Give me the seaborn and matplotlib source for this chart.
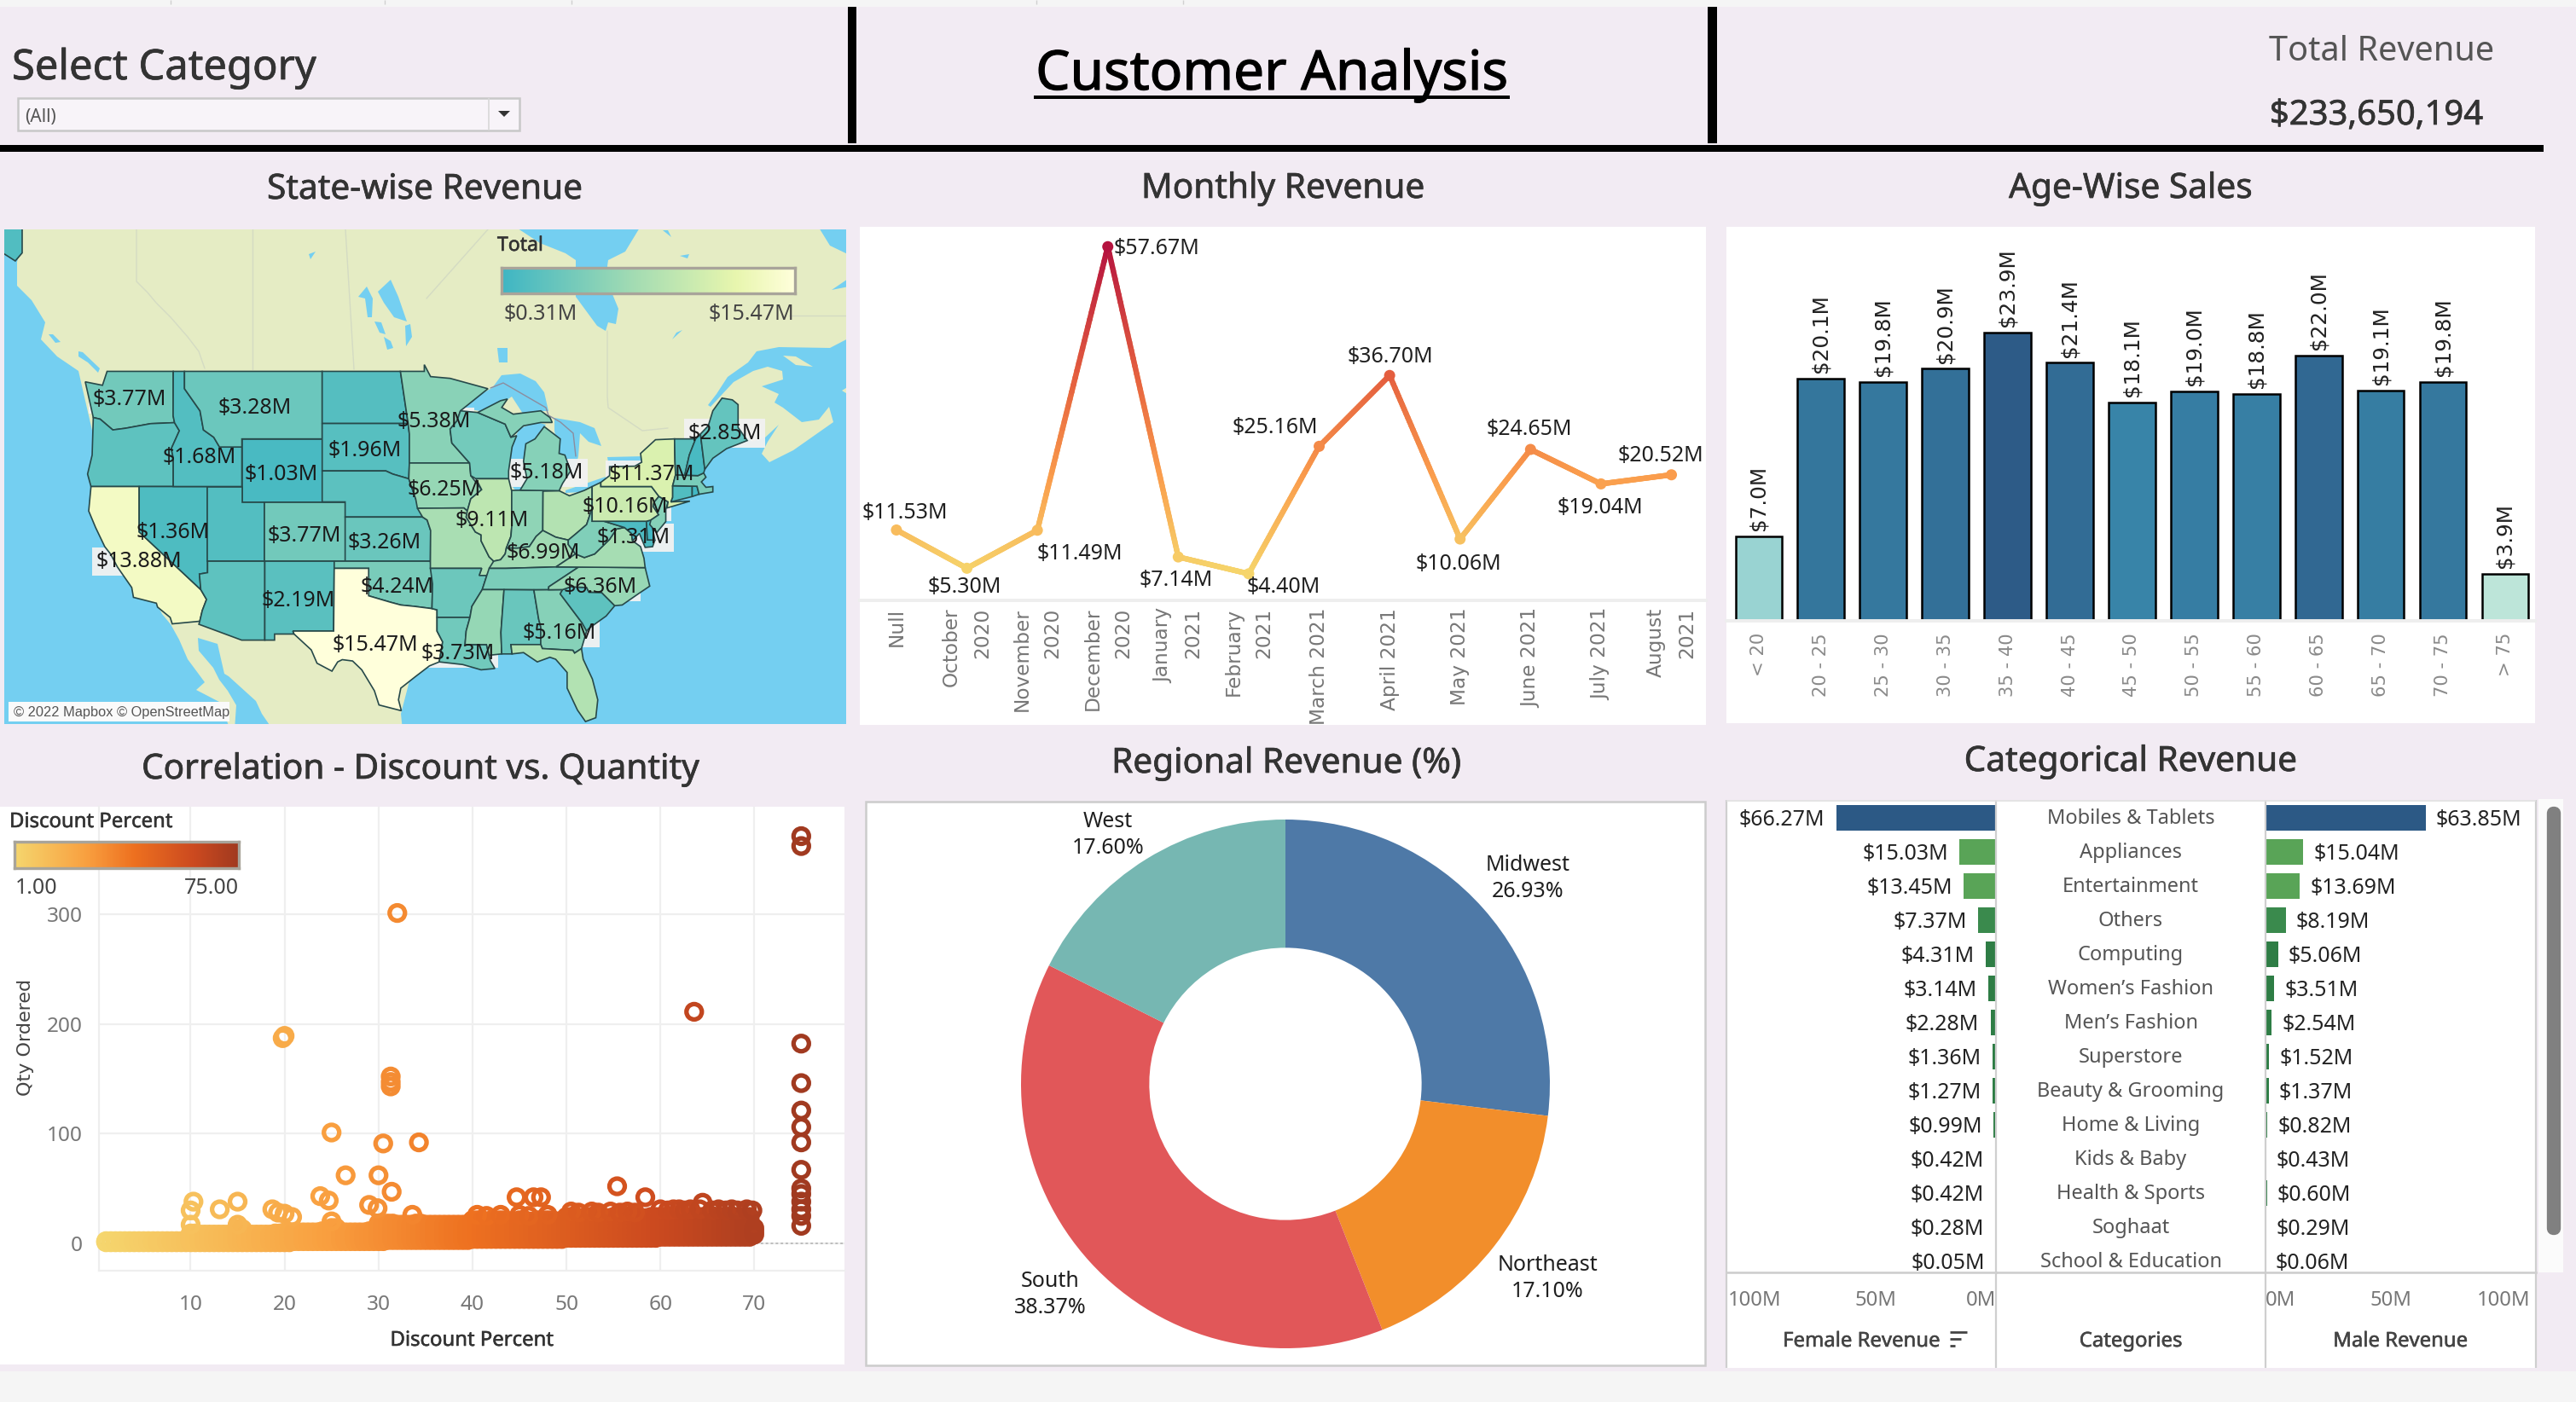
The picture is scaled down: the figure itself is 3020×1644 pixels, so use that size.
import numpy as np
import pandas as pd
import matplotlib
matplotlib.use("Agg")
import matplotlib.pyplot as plt
import matplotlib.patheffects as pe
import seaborn as sns
from matplotlib.collections import LineCollection
from matplotlib.colors import LinearSegmentedColormap, Normalize
from matplotlib.patches import Rectangle, Polygon, FancyBboxPatch
from matplotlib.lines import Line2D
from matplotlib.transforms import Affine2D

# ---------------- data ----------------
state_revenue = {
    "WA": 3.77, "MT": 3.28, "ID": 1.68, "WY": 1.03, "ND": 1.80, "SD": 1.96, "NE": 2.30, "MN": 5.38,
    "OR": 2.50, "CA": 13.88, "NV": 1.36, "UT": 1.70, "AZ": 2.40, "NM": 2.19, "CO": 3.77, "KS": 3.26,
    "OK": 4.24, "TX": 15.47, "MO": 7.60, "IA": 6.25, "AR": 3.40, "LA": 3.73, "MS": 6.20, "AL": 3.20,
    "GA": 5.16, "FL": 8.30, "SC": 2.40, "NC": 6.36, "TN": 4.40, "KY": 6.99, "VA": 7.40, "WV": 4.80,
    "OH": 8.40, "IN": 5.80, "IL": 9.11, "WI": 3.90, "MI": 5.18, "PA": 10.16, "NY": 11.37, "ME": 2.85,
    "VT": 2.30, "NH": 1.00, "MA": 4.30, "CT": 1.60, "RI": 0.50, "NJ": 5.20, "DE": 0.60, "MD": 1.31,
    "AK": 1.60,
}
map_labelled = ["WA", "MT", "ID", "WY", "SD", "MN", "IA", "MI", "NY", "ME", "PA", "MD", "NV", "CO", "KS", "CA",
                "NM", "OK", "TX", "LA", "GA", "NC", "KY", "IL"]

months = ["Null", "October\n2020", "November\n2020", "December\n2020", "January\n2021", "February\n2021",
          "March 2021", "April 2021", "May 2021", "June 2021", "July 2021", "August\n2021"]
month_revenue = [11.53, 5.30, 11.49, 57.67, 7.14, 4.40, 25.16, 36.70, 10.06, 24.65, 19.04, 20.52]

age_groups = ["< 20", "20 - 25", "25 - 30", "30 - 35", "35 - 40", "40 - 45", "45 - 50", "50 - 55", "55 - 60",
              "60 - 65", "65 - 70", "70 - 75", "> 75"]
age_revenue = [7.0, 20.1, 19.8, 20.9, 23.9, 21.4, 18.1, 19.0, 18.8, 22.0, 19.1, 19.8, 3.9]

regions = ["Midwest", "Northeast", "South", "West"]
region_share = [26.93, 17.10, 38.37, 17.60]
region_colors = ["#4E79A7", "#F28E2B", "#E15759", "#76B7B2"]

categories = ["Mobiles & Tablets", "Appliances", "Entertainment", "Others", "Computing", "Women's Fashion",
              "Men's Fashion", "Superstore", "Beauty & Grooming", "Home & Living", "Kids & Baby",
              "Health & Sports", "Soghaat", "School & Education"]
female_revenue = [66.27, 15.03, 13.45, 7.37, 4.31, 3.14, 2.28, 1.36, 1.27, 0.99, 0.42, 0.42, 0.28, 0.05]
male_revenue = [63.85, 15.04, 13.69, 8.19, 5.06, 3.51, 2.54, 1.52, 1.37, 0.82, 0.43, 0.60, 0.29, 0.06]

# dense lower band of the scatter: per whole discount, lowest and highest quantity
band_discount = [1, 2, 3, 4, 5, 6, 7, 8, 9, 10, 11, 12, 13, 14, 15, 16, 17, 18, 19, 20, 21, 22, 23, 24, 25, 26, 27,
                 28, 29, 30, 31, 32, 33, 34, 35, 36, 37, 38, 39, 40, 41, 42, 43, 44, 45, 46, 47, 48, 49, 50, 51,
                 52, 53, 54, 55, 56, 57, 58, 59, 60, 61, 62, 63, 64, 65, 66, 67, 68, 69, 70]
band_low = [1, 1, 1, 1, 1, 1, 1, 1, 1, 1, 1, 1, 1, 1, 1, 1, 1, 1, 1, 1, 2, 2, 2, 2, 2, 2, 2, 2, 2, 2, 3, 3, 3, 3, 3,
            3, 3, 3, 3, 4, 4, 4, 4, 4, 4, 4, 4, 4, 4, 5, 5, 5, 5, 5, 5, 5, 5, 5, 5, 6, 6, 6, 6, 6, 6, 6, 6, 6, 6, 8]
band_high = [2, 2, 2, 2, 2, 2, 2, 2, 2, 9, 8, 8, 8, 8, 13, 8, 8, 8, 9, 10, 10, 10, 10, 11, 14, 10, 10, 10, 11, 18,
             18, 17, 17, 18, 17, 17, 17, 17, 17, 21, 20, 21, 21, 20, 21, 20, 21, 21, 20, 24, 23, 24, 24, 23, 24,
             24, 24, 23, 24, 24, 24, 25, 24, 24, 25, 24, 24, 24, 24, 14]
outlier_discount = [75, 75, 32, 63.6, 20, 19.8, 75, 75, 75, 75, 75, 75, 75, 75, 75, 75, 75, 75, 31.3, 31.3, 31.3, 25,
                    30.5, 34.3, 26.5, 30, 31.4, 23.8, 24.7, 29, 29.9, 10.3, 10, 13.1, 15, 18.7, 19.3, 20, 20.8,
                    25, 10, 15, 33.6, 44.7, 46.5, 47.3, 55.4, 58.4, 64.5,
                    40.5, 41.5, 43, 45, 46, 48, 50.5, 51.3, 52.7, 53.4, 54.7, 55.7, 56.5, 57.3, 60, 60.8, 61.4,
                    62, 62.6, 63.2, 64.2, 65.5, 66.2, 67, 67.6, 68.2, 69.2, 69.8]
outlier_qty = [371, 362, 301, 211, 189, 187, 182, 146, 121, 106, 92, 67, 50, 45, 38, 31, 25, 16, 152, 147, 143, 101,
               91, 92, 62, 62, 47, 43, 39, 35, 32, 38, 30, 31, 38, 31, 28, 27, 24,
               20, 17, 17, 26, 42, 42, 42, 52, 42, 37,
               26, 25, 26, 26, 25, 26, 29, 28, 29, 28, 29, 28, 29, 28, 31, 30, 31,
               31, 30, 31, 31, 30, 31, 30, 31, 30, 31, 30]

# state outlines in longitude / latitude (map geometry)
STATE_OUTLINES = {
    "AK": [[(-131.9, 56.6), (-130.2, 56.6), (-130.2, 55.3), (-130.8, 54.9), (-131.9, 55.3)]],
    "WA": [[(-124.7, 48.4), (-123.2, 48.2), (-122.8, 49), (-117.03, 49), (-117.04, 46.4), (-116.92, 45.99), (-119, 45.93),
            (-121.2, 45.65), (-122.3, 45.55), (-123.4, 46.2), (-124, 46.3)]],
    "OR": [[(-124, 46.3), (-123.4, 46.2), (-122.3, 45.55), (-121.2, 45.65), (-119, 45.93), (-116.92, 45.99), (-116.5, 45.5),
            (-117.2, 44.4), (-117.03, 43.8), (-117.03, 42), (-124.2, 42), (-124.5, 42.8), (-124.1, 44)]],
    "CA": [[(-124.2, 42), (-120, 42), (-120, 39), (-114.63, 35), (-114.13, 34.3), (-114.5, 33.5), (-114.72, 32.72),
            (-117.12, 32.53), (-117.3, 33), (-118.4, 33.75), (-118.5, 34.03), (-120.5, 34.45), (-120.65, 35.15),
            (-121.9, 36.6), (-122.5, 37.5), (-123, 38), (-123.8, 39.3), (-124.4, 40.4)]],
    "NV": [[(-120, 42), (-114.04, 42), (-114.04, 36.2), (-114.75, 36.1), (-114.63, 35), (-120, 39)]],
    "ID": [[(-117.03, 49), (-116.05, 49), (-116.05, 48), (-114.7, 46.7), (-114.4, 45.55), (-113.5, 45.1), (-113, 44.5),
            (-111.05, 44.5), (-111.05, 42), (-117.03, 42), (-117.03, 43.8), (-117.2, 44.4), (-116.5, 45.5), (-116.92, 45.99),
            (-117.04, 46.4)]],
    "MT": [[(-116.05, 49), (-104.05, 49), (-104.05, 45), (-111.05, 45), (-111.05, 44.5), (-113, 44.5), (-113.5, 45.1),
            (-114.4, 45.55), (-114.7, 46.7), (-116.05, 48)]],
    "WY": [[(-111.05, 45), (-104.05, 45), (-104.05, 41), (-111.05, 41)]],
    "UT": [[(-114.04, 42), (-111.05, 42), (-111.05, 41), (-109.05, 41), (-109.05, 37), (-114.04, 37)]],
    "AZ": [[(-114.04, 37), (-109.05, 37), (-109.05, 31.33), (-111.07, 31.33), (-114.8, 32.5), (-114.72, 32.72), (-114.5, 33.5),
            (-114.13, 34.3), (-114.63, 35), (-114.75, 36.1), (-114.04, 36.2)]],
    "CO": [[(-109.05, 41), (-102.05, 41), (-102.05, 37), (-109.05, 37)]],
    "NM": [[(-109.05, 37), (-103, 37), (-103.05, 32), (-106.6, 32), (-106.5, 31.78), (-108.2, 31.78), (-108.2, 31.33),
            (-109.05, 31.33)]],
    "ND": [[(-104.05, 49), (-97.23, 49), (-96.56, 45.94), (-104.05, 45.94)]],
    "SD": [[(-104.05, 45.94), (-96.56, 45.94), (-96.45, 45.3), (-96.45, 43.5), (-96.5, 42.5), (-97.9, 42.8), (-98.5, 43),
            (-104.05, 43)]],
    "NE": [[(-104.05, 43), (-98.5, 43), (-97.9, 42.8), (-96.5, 42.5), (-95.9, 41.2), (-95.3, 40), (-102.05, 40), (-102.05, 41),
            (-104.05, 41)]],
    "KS": [[(-102.05, 40), (-95.3, 40), (-94.9, 39.8), (-94.6, 39.1), (-94.62, 37), (-102.05, 37)]],
    "OK": [[(-103, 37), (-94.62, 37), (-94.43, 35.4), (-94.48, 33.64), (-96, 33.8), (-97.2, 33.9), (-98.1, 34.1), (-100, 34.56),
            (-100, 36.5), (-103, 36.5)]],
    "TX": [[(-103, 36.5), (-100, 36.5), (-100, 34.56), (-98.1, 34.1), (-97.2, 33.9), (-96, 33.8), (-94.48, 33.64), (-94.04, 33.55),
            (-94.04, 32), (-93.55, 31.2), (-93.85, 29.7), (-94.7, 29.4), (-95.9, 28.6), (-97.2, 27.7), (-97.4, 26.8), (-97.15, 25.95),
            (-99.1, 26.4), (-99.5, 27.5), (-100.6, 29.1), (-101.4, 29.77), (-102.3, 29.87), (-102.7, 29.7), (-103.2, 29),
            (-104.5, 29.6), (-105, 30.6), (-106.5, 31.78), (-106.6, 32), (-103.05, 32)]],
    "MN": [[(-97.23, 49), (-95.15, 49), (-95.15, 49.38), (-94.6, 48.7), (-92.9, 48.6), (-89.6, 48), (-92, 46.7), (-92.3, 46.1),
            (-92.9, 45.6), (-92.75, 44.75), (-91.2, 43.5), (-96.45, 43.5), (-96.45, 45.3), (-96.56, 45.94)]],
    "IA": [[(-96.45, 43.5), (-91.2, 43.5), (-91.1, 42.7), (-90.15, 41.8), (-91.1, 41.2), (-91.4, 40.4), (-91.7, 40.6), (-95.75, 40.58),
            (-95.9, 41.2), (-96.5, 42.5)]],
    "MO": [[(-95.75, 40.58), (-91.7, 40.6), (-91.4, 40.4), (-91.5, 40), (-90.7, 39), (-90.2, 38.8), (-90.2, 38.4), (-89.5, 37.3),
            (-89.1, 37), (-89.7, 36), (-90.37, 36), (-90.15, 36.5), (-94.62, 36.5), (-94.62, 37), (-94.6, 39.1), (-94.9, 39.8),
            (-95.3, 40)]],
    "AR": [[(-94.62, 36.5), (-90.15, 36.5), (-90.37, 36), (-89.7, 36), (-90.1, 35), (-91, 33.8), (-91.17, 33), (-94.04, 33),
            (-94.04, 33.55), (-94.48, 33.64), (-94.43, 35.4)]],
    "LA": [[(-94.04, 33), (-91.17, 33), (-91.5, 32), (-91.6, 31), (-89.73, 31), (-89.5, 30.2), (-89.4, 29.8), (-89, 29.2),
            (-90.2, 29.1), (-91.8, 29.5), (-93.85, 29.7), (-93.55, 31.2), (-94.04, 32)]],
    "WI": [[(-92, 46.7), (-90.5, 46.6), (-88.1, 45.9), (-87.6, 45.1), (-87.1, 45.2), (-87.5, 44.5), (-87.8, 43), (-87.8, 42.5),
            (-90.65, 42.5), (-91.1, 42.7), (-91.2, 43.5), (-92.75, 44.75), (-92.9, 45.6), (-92.3, 46.1)]],
    "IL": [[(-90.65, 42.5), (-87.8, 42.5), (-87.53, 41.7), (-87.53, 39.35), (-87.6, 38.7), (-88, 37.9), (-88.1, 37.5), (-88.5, 37.1),
            (-89.1, 37), (-89.5, 37.3), (-90.2, 38.4), (-90.2, 38.8), (-90.7, 39), (-91.5, 40), (-91.4, 40.4), (-91.1, 41.2),
            (-90.15, 41.8)]],
    "IN": [[(-87.53, 41.75), (-86.8, 41.76), (-84.8, 41.76), (-84.82, 39.1), (-85.4, 38.7), (-86, 38), (-87, 37.9), (-88, 37.9),
            (-87.6, 38.7), (-87.53, 39.35)]],
    "OH": [[(-84.8, 41.7), (-83.4, 41.73), (-82.5, 41.4), (-81.2, 41.75), (-80.52, 42), (-80.52, 40.6), (-81, 39.5), (-81.9, 38.9),
            (-82.6, 38.45), (-83.7, 38.65), (-84.82, 39.1)]],
    "MI": [[(-86.8, 41.76), (-83.4, 41.73), (-83.1, 42.2), (-82.4, 43), (-82.9, 44), (-83.4, 44.1), (-83.3, 45), (-84.7, 45.75),
            (-85.5, 45), (-86.3, 44.7), (-86.5, 43.6), (-86.2, 42.5)],
           [(-90.5, 46.6), (-88.5, 47.3), (-87.9, 47.4), (-88.4, 46.9), (-87.4, 46.5), (-85, 46.7), (-84.2, 46.3), (-84, 46), (-85, 46),
            (-86.5, 45.8), (-87.6, 45.1), (-88.1, 45.9)]],
    "KY": [[(-89.5, 36.5), (-88.05, 36.5), (-83.67, 36.6), (-81.97, 37.5), (-82.6, 38.15), (-82.6, 38.45), (-83.7, 38.65),
            (-84.82, 39.1), (-85.4, 38.7), (-86, 38), (-87, 37.9), (-88, 37.9), (-88.1, 37.5), (-88.5, 37.1), (-89.1, 37)]],
    "TN": [[(-90.1, 35), (-89.7, 36), (-89.5, 36.5), (-88.05, 36.5), (-83.67, 36.6), (-81.68, 36.6), (-82.9, 35.95), (-84.3, 35.2),
            (-84.32, 34.99)]],
    "MS": [[(-91.17, 33), (-91, 33.8), (-90.1, 35), (-88.2, 35), (-88.47, 31.9), (-88.4, 30.3), (-89.5, 30.2), (-89.73, 31), (-91.6, 31),
            (-91.5, 32)]],
    "AL": [[(-88.2, 35), (-85.6, 34.98), (-85.18, 32.87), (-85, 32.3), (-85, 31), (-87.6, 31), (-87.5, 30.3), (-88.4, 30.3),
            (-88.47, 31.9)]],
    "GA": [[(-85.6, 34.98), (-83.1, 35), (-83.3, 34.7), (-81.4, 32.6), (-81, 32), (-81.45, 30.7), (-82.05, 30.36), (-82.2, 30.57),
            (-84.86, 30.7), (-85, 31), (-85, 32.3), (-85.18, 32.87)]],
    "FL": [[(-87.6, 31), (-85, 31), (-84.86, 30.7), (-82.2, 30.57), (-82.05, 30.36), (-81.45, 30.7), (-81.3, 29.9), (-80.5, 28.4),
            (-80.03, 26.8), (-80.2, 25.4), (-81.1, 25.1), (-81.8, 26), (-82.7, 27.7), (-82.7, 28.9), (-83.7, 29.9), (-84.2, 30.05),
            (-85.3, 29.7), (-86.5, 30.4), (-87.5, 30.3)]],
    "SC": [[(-83.1, 35), (-82.4, 35.2), (-81, 35.15), (-80.8, 34.82), (-79.7, 34.8), (-78.55, 33.85), (-79.3, 33.1), (-80.8, 32.2),
            (-81, 32), (-81.4, 32.6), (-83.3, 34.7)]],
    "NC": [[(-84.32, 34.99), (-84.3, 35.2), (-82.9, 35.95), (-81.68, 36.6), (-75.9, 36.55), (-75.5, 35.25), (-76.5, 34.7), (-77.9, 33.9),
            (-78.55, 33.85), (-79.7, 34.8), (-80.8, 34.82), (-81, 35.15), (-82.4, 35.2), (-83.1, 35)]],
    "VA": [[(-83.67, 36.6), (-75.9, 36.55), (-76, 37.2), (-76.3, 38), (-77, 38.4), (-77.1, 38.9), (-77.7, 39.3), (-78.4, 39.2), (-79, 38.5),
            (-80.3, 37.5), (-81.2, 37.25), (-81.97, 37.5)]],
    "WV": [[(-81.97, 37.5), (-81.2, 37.25), (-80.3, 37.5), (-79, 38.5), (-78.4, 39.2), (-77.7, 39.3), (-79.48, 39.72), (-80.52, 39.72),
            (-80.52, 40.6), (-81, 39.5), (-81.9, 38.9), (-82.6, 38.45), (-82.6, 38.15)]],
    "MD": [[(-79.48, 39.72), (-75.79, 39.72), (-75.7, 38.46), (-75.05, 38.45), (-75.25, 38), (-75.9, 37.95), (-76.4, 38.9), (-77, 38.4),
            (-77.1, 38.9), (-77.7, 39.3)]],
    "DE": [[(-75.79, 39.72), (-75.4, 39.8), (-75.05, 38.45), (-75.7, 38.46)]],
    "PA": [[(-80.52, 42), (-79.76, 42.27), (-79.76, 42), (-75.35, 42), (-74.7, 41.36), (-75.13, 40.97), (-75.2, 40.7), (-74.72, 40.15),
            (-75.4, 39.8), (-75.79, 39.72), (-80.52, 39.72)]],
    "NJ": [[(-74.7, 41.36), (-73.9, 41), (-74.1, 40.5), (-74.1, 39.7), (-74.9, 38.95), (-75.5, 39.5), (-75.4, 39.8), (-74.72, 40.15),
            (-75.2, 40.7), (-75.13, 40.97)]],
    "NY": [[(-79.76, 42.27), (-79, 42.7), (-79, 43.27), (-76.8, 43.3), (-76.2, 43.55), (-76.3, 44.1), (-75, 44.95), (-73.34, 45),
            (-73.3, 43.6), (-73.25, 42.75), (-73.5, 42.05), (-73.5, 41.3), (-73.65, 41), (-72, 41.05), (-74, 40.6), (-73.9, 41),
            (-74.7, 41.36), (-75.35, 42), (-79.76, 42)]],
    "CT": [[(-73.5, 42.05), (-71.8, 42.02), (-71.8, 41.35), (-73.65, 41), (-73.5, 41.3)]],
    "RI": [[(-71.8, 42.02), (-71.38, 42.02), (-71.2, 41.5), (-71.8, 41.35)]],
    "MA": [[(-73.5, 42.05), (-73.25, 42.75), (-71.3, 42.7), (-70.8, 42.87), (-70.6, 42.6), (-71, 42.3), (-70.6, 41.95), (-70, 42),
            (-70, 41.65), (-71.2, 41.5), (-71.38, 42.02)]],
    "VT": [[(-73.34, 45), (-71.5, 45), (-72.05, 44), (-72.45, 42.73), (-73.25, 42.75), (-73.3, 43.6)]],
    "NH": [[(-71.5, 45), (-71.08, 45.3), (-70.7, 43.1), (-70.8, 42.87), (-71.3, 42.7), (-72.45, 42.73), (-72.05, 44)]],
    "ME": [[(-71.08, 45.3), (-70.4, 45.8), (-70, 46.7), (-69.2, 47.45), (-68.3, 47.35), (-67.8, 47.07), (-67.8, 45.7), (-67, 44.9),
            (-68.8, 44.4), (-70, 43.8), (-70.7, 43.1)]],
}
# base-map background shapes, traced in picture pixels
LAND_SHAPES = [
    [(0, 260), (25, 268), (25, 290), (20, 307), (20, 335), (37, 352), (53, 378), (48, 398), (67, 418), (92, 435), (100, 470), (130, 600),
     (190, 720), (200, 732), (210, 750), (220, 773), (240, 800), (230, 809), (257, 823), (267, 848), (270, 856), (275, 856), (277, 827),
     (267, 810), (257, 797), (250, 783), (233, 763), (232, 748), (255, 755), (263, 790), (268, 793), (300, 822), (307, 837), (320, 856),
     (472, 856), (470, 837), (490, 760), (560, 720), (660, 740), (730, 690), (740, 660), (745, 570), (780, 560), (820, 550), (860, 500),
     (882, 518), (897, 513), (913, 498), (900, 518), (893, 532), (902, 542), (930, 528), (977, 495), (972, 477), (960, 492), (940, 495),
     (918, 478), (908, 472), (913, 462), (893, 453), (918, 445), (917, 435), (900, 430), (883, 435), (860, 448), (833, 477), (830, 475),
     (840, 462), (853, 442), (877, 425), (887, 412), (913, 407), (973, 408), (1000, 394), (1000, 335), (975, 340), (1000, 323),
     (1000, 301), (973, 288), (957, 262)],
    [(1000, 450), (987, 458), (1000, 466)],
    [(918, 417), (933, 418), (953, 430), (933, 428)],
]
WATER_SHAPES = [
    [(598, 262), (633, 285), (663, 297), (675, 305), (675, 348), (700, 382), (710, 388), (713, 378), (722, 380), (725, 362), (718, 345),
     (712, 312), (713, 305), (733, 295), (753, 262)],
    [(92, 412), (97, 413), (117, 432), (115, 437), (103, 425), (92, 418)],
    [(57, 392), (62, 392), (71, 401), (65, 402)],
    [(443, 342), (458, 328), (467, 348), (477, 377), (462, 372), (450, 355)],
    [(420, 348), (430, 336), (437, 350), (436, 372), (431, 372), (428, 350)],
    [(439, 377), (447, 378), (452, 392), (445, 390)],
    [(450, 395), (458, 400), (461, 408), (454, 410)],
    [(475, 382), (481, 380), (483, 395), (476, 406)],
    [(362, 298), (370, 295), (364, 304)],
    [(583, 408), (595, 408), (595, 425), (585, 425)],
    [(788, 398), (800, 387), (793, 390)],
    [(797, 300), (808, 298), (806, 303)],
    [(777, 270), (787, 278), (783, 270)],
    [(577, 455), (588, 440), (610, 438), (628, 447), (638, 460), (643, 482), (627, 482), (613, 485), (600, 465), (590, 472), (563, 482),
     (540, 478), (558, 465)],
    [(650, 490), (680, 495), (697, 502), (705, 523), (690, 518), (680, 508), (678, 535), (672, 560), (655, 560), (655, 530), (650, 505)],
    [(597, 523), (610, 502), (630, 495), (640, 498), (627, 518), (622, 545), (615, 570), (607, 578), (600, 570), (600, 545)],
    [(663, 575), (713, 558), (715, 562), (682, 577), (663, 578)],
    [(712, 536), (755, 535), (757, 545), (750, 553), (715, 553)],
]
REGION_LINES = [
    [(160, 269), (160, 330), (173, 343), (183, 355), (200, 372), (220, 395), (233, 412), (240, 432)],
    [(296, 269), (296, 433)],
    [(405, 269), (415, 433)],
    [(572, 269), (500, 350)],
    [(712, 388), (712, 465), (713, 478), (753, 505), (783, 502)],
    [(925, 370), (992, 370)],
]
BORDER_LINES = [[(575, 455), (590, 449), (640, 478), (643, 487), (657, 495), (672, 508), (675, 535)]]

# ---------------- helpers ----------------
W, H = 3020, 1644
PAGE = "#F2EBF3"
sns.set_theme(style="white")
plt.rcParams["font.family"] = ["Noto Sans", "DejaVu Sans"]
plt.rcParams["axes.unicode_minus"] = False

fig = plt.figure(figsize=(W / 200, H / 200), dpi=200, facecolor="#F5F5F5")
PX = Affine2D().scale(1, -1).translate(0, H)


def rect(x0, y0, x1, y1, fc, ec="none", lw=0, z=-1):
    p = Rectangle((x0, y0), x1 - x0, y1 - y0, transform=PX, facecolor=fc, edgecolor=ec, linewidth=lw, zorder=z)
    fig.add_artist(p)


def line(xs, ys, color, lw, z=2):
    fig.add_artist(Line2D(xs, ys, transform=PX, color=color, linewidth=lw, zorder=z, solid_capstyle="butt"))


def label(x, y, s, size=9, color="#222222", ha="center", va="center", heavy=0, **kw):
    t = fig.text(x, y + 3, s, transform=PX, fontsize=size, color=color, ha=ha, va=va, **kw)
    if heavy:
        t.set_path_effects([pe.withStroke(linewidth=heavy, foreground=color)])
    return t


def axes_at(x0, y0, x1, y1, **kw):
    return fig.add_axes([x0 / W, 1 - y1 / H, (x1 - x0) / W, (y1 - y0) / H], **kw)


def gradient_bar(x0, y0, x1, y1, cmap):
    ax = axes_at(x0, y0, x1, y1)
    ax.imshow(np.linspace(0, 1, 256)[None, :], cmap=cmap, aspect="auto")
    ax.set_xticks([]); ax.set_yticks([])
    for s in ax.spines.values():
        s.set_color("#A8A49A"); s.set_linewidth(1.2); s.set_visible(True)
    return ax


def bottom_ticks(ax, color="#EEEEEE"):
    for s in ["top", "right", "left"]:
        ax.spines[s].set_visible(False)
    ax.spines["bottom"].set_color(color)
    ax.spines["bottom"].set_linewidth(1.4)
    ax.set_yticks([])
    ax.set_xlabel(""); ax.set_ylabel("")


# ---------------- page ----------------
rect(0, 8, W, 1608, PAGE)
for xt in [200, 451, 670, 1215, 1387]:
    line([xt, xt], [0, 5], "#D0D0D0", 0.5)
rect(994, 8, 1004, 168, "black", z=1)
rect(2002, 8, 2013, 168, "black", z=1)
rect(0, 170, 2982, 178, "black", z=1)

TITLE = dict(size=14.6, color="#333333", heavy=0.25)
label(192, 77, "Select Category", size=17.6, color="#333333", heavy=0.25)
rect(21, 115, 609, 153, "#F8F4F9", ec="#C8C8C8", lw=0.9, z=1)
line([573, 573], [115, 153], "#D8D8D8", 0.6)
label(29, 134, "(All)", size=7.5, color="#555555", ha="left")
fig.add_artist(Polygon([(584, 130), (598, 130), (591, 137)], transform=PX, facecolor="#333333", edgecolor="none", zorder=3))
label(1491, 85, "Customer Analysis", size=23, color="black", heavy=0.45)
rect(1212, 112, 1770, 115.5, "black", z=1)
label(2792, 58, "Total Revenue", size=14.3, color="#555555")
label(2786, 133, "$233,650,194", size=14.4, color="#333333", heavy=0.25)
label(498, 220, "State-wise Revenue", **TITLE)
label(1504, 219, "Monthly Revenue", **TITLE)
label(2498, 219, "Age-Wise Sales", **TITLE)
label(493, 900, "Correlation - Discount vs. Quantity", **TITLE)
label(1508, 893, "Regional Revenue (%)", **TITLE)
label(2498, 891, "Categorical Revenue", **TITLE)

# ---------------- map ----------------


def merc(lat):
    return np.degrees(np.log(np.tan(np.pi / 4 + np.radians(np.asarray(lat, float)) / 2)))


def project(outline):
    arr = np.array(outline, float)
    return np.column_stack([arr[:, 0], merc(arr[:, 1])])


SEA, LAND = "#74CFF1", "#E5ECC4"
ax_map = axes_at(5, 269, 992, 849)
ax_map.set_facecolor(SEA)
ax_map.set_xlim(-131.76, -58.38)
ax_map.set_ylim(25.73, 68.7)
ax_map.set_xticks([]); ax_map.set_yticks([])
for s in ax_map.spines.values():
    s.set_visible(False)
for shape in LAND_SHAPES:
    p = Polygon(shape, facecolor=LAND, edgecolor="none", zorder=1, transform=PX)
    ax_map.add_patch(p)
    p.set_transform(PX)
for shape in REGION_LINES:
    arr = np.array(shape, float)
    ax_map.plot(arr[:, 0], arr[:, 1], color="#D4DBC3", lw=0.5, zorder=1.1, transform=PX)
for shape in WATER_SHAPES:
    p = Polygon(shape, facecolor=SEA, edgecolor="none", zorder=1.2, transform=PX)
    ax_map.add_patch(p)
    p.set_transform(PX)
for shape in BORDER_LINES:
    arr = np.array(shape, float)
    ax_map.plot(arr[:, 0], arr[:, 1], color="#8C8C9E", lw=0.5, zorder=1.3, transform=PX)
ax_map.set_xlim(-131.76, -58.38)
ax_map.set_ylim(25.73, 68.7)
map_cmap = LinearSegmentedColormap.from_list(
    "map", [(0, "#3FB6C4"), (0.45, "#A3DCB3"), (0.8, "#E8F6AE"), (1, "#FFFFDB")])
map_norm = Normalize(0.31, 15.47)
for st, polys in STATE_OUTLINES.items():
    for outline in polys:
        ax_map.add_patch(Polygon(project(outline), facecolor=map_cmap(map_norm(state_revenue[st])),
                                 edgecolor="#27494A", linewidth=0.6, zorder=2))
zoom_xy = {"WA": (235, 849), "MT": (464, 866), "ID": (362, 972), "WY": (511, 1009), "SD": (663, 958), "MN": (790, 896),
           "IA": (808, 1041), "MI": (995, 1005), "NY": (1186, 1009), "ME": (1318, 921), "PA": (1137, 1078), "MD": (1153, 1144),
           "NV": (315, 1133), "CO": (554, 1140), "KS": (700, 1155), "CA": (252, 1195), "NM": (542, 1278), "OK": (722, 1249),
           "TX": (683, 1374), "LA": (833, 1392), "GA": (1017, 1348), "NC": (1092, 1249), "KY": (988, 1177), "IL": (895, 1107)}
for st in map_labelled:
    zx, zy = zoom_xy[st]
    txt = f"${state_revenue[st]:.2f}M"
    ax_map.text(zx / 1.552, zy / 1.823 + 3, txt, transform=PX, fontsize=9, color="none", ha="center", va="center", zorder=1.5,
                bbox=dict(facecolor="#F2F2F2", edgecolor="none", alpha=0.95, pad=1.5))
    ax_map.text(zx / 1.552, zy / 1.823 + 3, txt, transform=PX, fontsize=9, color="#1A1A1A", ha="center", va="center", zorder=5)
label(610, 285, "Total", size=8.3, color="#333333", heavy=0.2)
gradient_bar(588, 314, 932, 344, map_cmap)
label(590, 365, "$0.31M", size=9, color="#444444", ha="left")
label(931, 365, "$15.47M", size=9, color="#444444", ha="right")
rect(10, 823, 269, 846, "#FAFAFA", z=2)
label(16, 832, "© 2022 Mapbox © OpenStreetMap", size=5.9, color="#555555", ha="left", family="Liberation Sans")

# ---------------- monthly line ----------------
rect(1008, 266, 2000, 850, "white")
ax_line = axes_at(1008, 266, 2000, 704.5)
ax_line.patch.set_alpha(0)
heat = LinearSegmentedColormap.from_list("heat", [(0, "#F6D56B"), (0.3, "#FA9C4C"), (0.6, "#E5603F"), (1, "#B5133F")])
heat_norm = Normalize(min(month_revenue), max(month_revenue))
df_month = pd.DataFrame({"month": months, "rev": month_revenue})
sns.lineplot(data=df_month, x="month", y="rev", sort=False, color="#F6B95E", lw=2.2, ax=ax_line, zorder=1)
xpos = np.arange(len(months), dtype=float)
seg_x, seg_y = [], []
for i in range(len(months) - 1):
    seg_x.extend(np.linspace(xpos[i], xpos[i + 1], 40))
    seg_y.extend(np.linspace(month_revenue[i], month_revenue[i + 1], 40))
pts = np.column_stack([seg_x, seg_y])
segments = np.stack([pts[:-1], pts[1:]], axis=1)
lc = LineCollection(segments, colors=heat(heat_norm((pts[:-1, 1] + pts[1:, 1]) / 2)), linewidths=2.3, capstyle="round", zorder=2)
ax_line.add_collection(lc)
sns.scatterplot(data=df_month, x="month", y="rev", hue="rev", palette=heat, hue_norm=(min(month_revenue), max(month_revenue)),
                s=22, linewidth=0, legend=False, ax=ax_line, zorder=3)
ax_line.set_xlim(-0.52, 11.49)
ax_line.set_ylim(0, 60.9)
bottom_ticks(ax_line)
ax_line.set_xticks(xpos)
ax_line.set_xticklabels(months, family="DejaVu Sans", fontsize=8.4, color="#777777", rotation=90, va="top", ha="center",
                        multialignment="right", linespacing=1.7)
ax_line.tick_params(axis="x", which="major", length=0, pad=3)
ax_line.set_xticks(xpos[:-1] + 0.5, minor=True)
ax_line.tick_params(axis="x", which="minor", length=2.5, color="#EEEEEE", width=0.6)
month_xy = [(551, 311), (587, 356), (657, 336), (704, 150), (716, 352), (781, 356), (776, 259), (846, 216), (888, 342), (931, 260),
            (974, 308), (1011, 276)]
for (dx, dy), v in zip(month_xy, month_revenue):
    label(dx * 1.926, dy * 1.925, f"${v:.2f}M", size=9, color="#1F1F1F")

# ---------------- age bars ----------------
rect(2024, 266, 2972, 848, "white")
ax_age = axes_at(2024, 266, 2972, 728)
ax_age.patch.set_alpha(0)
age_cmap = LinearSegmentedColormap.from_list("age", [(0, "#BDE5D9"), (0.155, "#99D3D2"), (0.71, "#3884A8"), (1, "#2D5B87")])
age_norm = Normalize(min(age_revenue), max(age_revenue))
age_palette = [age_cmap(age_norm(v)) for v in age_revenue]
sns.barplot(x=age_groups, y=age_revenue, hue=age_groups, palette=age_palette, legend=False, width=0.75, saturation=1,
            edgecolor="black", linewidth=0.9, ax=ax_age)
ax_age.set_xlim(-0.52, 12.48)
ax_age.set_ylim(0, 32.65)
bottom_ticks(ax_age)
ax_age.set_xticks(range(len(age_groups)))
ax_age.set_xticklabels(age_groups, family="DejaVu Sans", fontsize=7.6, color="#8A8A8A", rotation=90, va="top", ha="center")
ax_age.tick_params(axis="x", which="major", length=0, pad=5)
ax_age.set_xticks(np.arange(len(age_groups) - 1) + 0.5, minor=True)
ax_age.tick_params(axis="x", which="minor", length=2.5, color="#EEEEEE", width=0.6)
for i, v in enumerate(age_revenue):
    ax_age.annotate(f"${v:.1f}M", (i, v), xytext=(0, 2.4), textcoords="offset points", rotation=90, ha="center", va="bottom",
                    fontsize=8.9, family="DejaVu Sans", color="#222222")

# ---------------- scatter ----------------
rect(0, 946, 990, 1600, "white")
ax_sc = axes_at(116, 946, 990, 1490)
ax_sc.patch.set_alpha(0)
sc_cmap = LinearSegmentedColormap.from_list(
    "sc", [(0, "#F5D66E"), (0.32, "#F9A040"), (0.53, "#EE7120"), (0.8, "#CC4A1F"), (1, "#A13A20")])
bx, by = [], []
for d, lo, hi in zip(band_discount, band_low, band_high):
    levels = list(range(lo, hi, 3)) + [hi]
    for offset in (0.0, 0.5):
        if d == band_discount[-1] and offset:
            continue
        for q in levels:
            bx.append(d + offset)
            by.append(q)
df_sc = pd.DataFrame({"discount": bx + outlier_discount, "qty": by + outlier_qty})
sns.scatterplot(data=df_sc, x="discount", y="qty", hue="discount", palette=sc_cmap, hue_norm=(1, 75), s=42, legend=False, ax=ax_sc,
                linewidth=1.9, zorder=3, clip_on=False)
coll = ax_sc.collections[0]
rgba = coll.get_facecolors()
coll.set_edgecolors(rgba)
coll.set_facecolors("none")
coll.set_linewidths(1.9)
ax_sc.set_xlim(0.24, 79.6)
ax_sc.set_ylim(-24.9, 397.8)
ax_sc.set_xticks(range(10, 71, 10))
ax_sc.set_yticks([0, 100, 200, 300])
ax_sc.grid(True, color="#EFEFEF", lw=0.8)
ax_sc.set_axisbelow(True)
ax_sc.axhline(0, color="#BDBDBD", lw=0.7, ls=(0, (1.5, 1.5)), zorder=2)
for s in ["top", "right"]:
    ax_sc.spines[s].set_visible(False)
for s in ["left", "bottom"]:
    ax_sc.spines[s].set_color("#EEEEEE"); ax_sc.spines[s].set_linewidth(0.8)
ax_sc.tick_params(axis="both", labelsize=8.8, labelcolor="#777777", length=2, color="#EEEEEE", pad=5)
ax_sc.tick_params(axis="x", pad=8)
ax_sc.set_xlabel(""); ax_sc.set_ylabel("")
label(553, 1569, "Discount Percent", size=8.6, color="#333333", heavy=0.2)
label(30, 1213, "Qty Ordered", size=8, color="#444444", rotation=90, family="DejaVu Sans")
label(11, 961, "Discount Percent", size=8.6, color="#333333", ha="left", heavy=0.2)
gradient_bar(17, 987, 280, 1018, sc_cmap)
label(18, 1038, "1.00", size=9, color="#444444", ha="left")
label(280, 1038, "75.00", size=9, color="#444444", ha="right")

# ---------------- donut ----------------
rect(1015, 940, 1999, 1601, "white", ec="#CCCCCC", lw=0.9)
ax_pie = axes_at(1197, 961, 1817, 1581)
ax_pie.pie(region_share, colors=region_colors, startangle=90, counterclock=False, radius=1,
           wedgeprops=dict(width=0.485, edgecolor="none"))
ax_pie.set_xlim(-1, 1); ax_pie.set_ylim(-1, 1)
pie_xy = [(1791, 1027), (1814, 1496), (1231, 1515), (1299, 976)]
for (px_, py_), name, share in zip(pie_xy, regions, region_share):
    label(px_, py_, f"{name}\n{share:.2f}%", size=9, color="#1F1F1F", linespacing=1.3)

# ---------------- categorical bars ----------------
rect(2024, 940, 2973, 1604, "white")


def cat_color(v):
    if v >= 30:
        return "#2C5985"
    if v >= 10:
        return "#59A457"
    if v >= 5.5:
        return "#3A8A4D"
    return "#2E7D45"


df_cat = pd.DataFrame({"cat": categories, "f": female_revenue, "m": male_revenue})
ax_f = axes_at(2024, 940, 2340, 1492)
ax_m = axes_at(2656, 940, 2973, 1492)
for ax, col, vals in [(ax_f, "f", female_revenue), (ax_m, "m", male_revenue)]:
    ax.patch.set_alpha(0)
    sns.barplot(data=df_cat, x=col, y="cat", hue="cat", palette=[cat_color(v) for v in vals], legend=False, width=0.74, saturation=1,
                orient="h", ax=ax, linewidth=0)
    ax.set_ylim(13.325, -0.475)
    ax.set_yticks([]); ax.set_xlabel(""); ax.set_ylabel("")
    for s in ["top", "left", "right"]:
        ax.spines[s].set_visible(False)
    ax.spines["bottom"].set_color("#CCCCCC"); ax.spines["bottom"].set_linewidth(0.9)
ax_f.set_xlim(111.7, 0)
ax_m.set_xlim(0, 107.5)
ax_f.set_xticks([100, 50, 0], ["100M", "50M", "0M"])
ax_m.set_xticks([0, 50, 100], ["0M", "50M", "100M"])
for ax in (ax_f, ax_m):
    ax.tick_params(axis="x", labelsize=8.6, labelcolor="#777777", length=2.5, color="#EEEEEE", pad=5)
ax_f.get_xticklabels()[2].set_ha("right")
ax_m.get_xticklabels()[0].set_ha("left")
lab100 = ax_m.get_xticklabels()[2]
lab100.set_transform(lab100.get_transform() + Affine2D().translate(-16, 0))
for i, (f, m) in enumerate(zip(female_revenue, male_revenue)):
    ax_f.annotate(f"${f:.2f}M", (f, i), xytext=(-4.8, -0.8), textcoords="offset points", ha="right", va="center", fontsize=9, color="#222222")
    ax_m.annotate(f"${m:.2f}M", (m, i), xytext=(4.2, -0.8), textcoords="offset points", ha="left", va="center", fontsize=9, color="#222222")
    label(2498, 957 + 40 * i, categories[i].replace("'", "’"), size=8.5, color="#555555")
for xv in [2024, 2340, 2656, 2973]:
    line([xv, xv], [938, 1604], "#CFCFCF", 0.8)
line([2024, 2973], [939, 939], "#E2E2E2", 0.6)
line([2340, 2656], [1492, 1492], "#CCCCCC", 0.9)
HEAD = dict(size=8.6, color="#444444", heavy=0.2)
label(2182, 1570, "Female Revenue", **HEAD)
label(2498, 1570, "Categories", **HEAD)
label(2814, 1570, "Male Revenue", **HEAD)
for yy, xe in [(1562, 2306), (1570, 2299), (1578, 2292)]:
    line([2286, xe], [yy, yy], "#444444", 1.0)
rect(2976, 937, 3005, 1492, "#FBFBFB", z=-1)
fig.add_artist(FancyBboxPatch((2990, 950), 8, 494, boxstyle="round,pad=0,rounding_size=4", transform=PX, facecolor="#808080",
                              edgecolor="#808080", linewidth=3, zorder=2, mutation_aspect=1))

fig.savefig("out.png", dpi=200, facecolor=fig.get_facecolor())
